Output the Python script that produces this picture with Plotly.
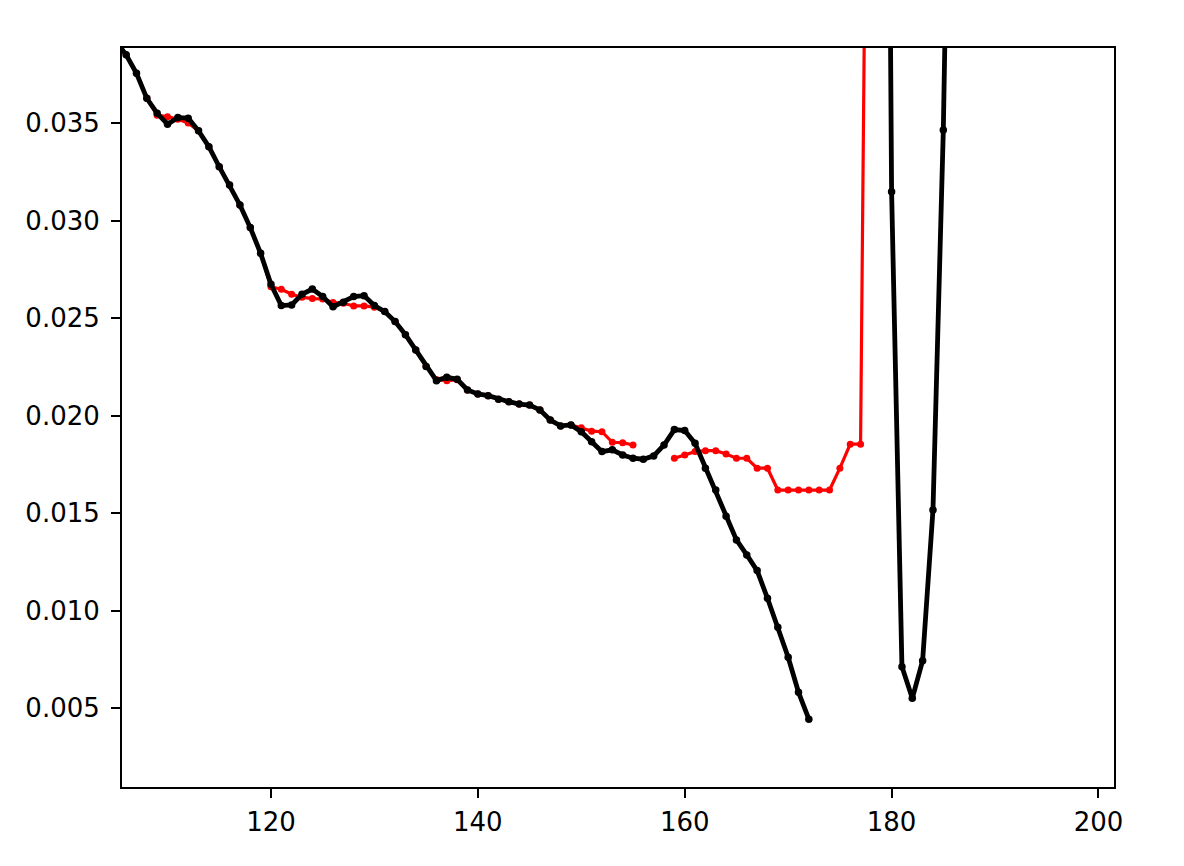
import plotly.graph_objects as go

x_vals = list(range(105, 187))

black_vals = [
    0.0392, 0.0385, 0.03755, 0.03627, 0.0355, 0.03494, 0.03528, 0.03525, 0.0346, 0.03379,
    0.03276, 0.03183, 0.0308, 0.02964, 0.02832, 0.02673, 0.02564, 0.02567, 0.02622, 0.02649,
    0.0261, 0.02558, 0.02581, 0.0261, 0.02615, 0.02564, 0.02533, 0.02482, 0.02415, 0.02336,
    0.02251, 0.02179, 0.02196, 0.02186, 0.02131, 0.02111, 0.02102, 0.02084, 0.02071, 0.02059,
    0.02054, 0.02029, 0.01977, 0.01947, 0.01952, 0.01917, 0.01866, 0.01815, 0.01824, 0.01798,
    0.01781, 0.01776, 0.01793, 0.01849, 0.01928, 0.01923, 0.01858, 0.0173, 0.01618, 0.01484,
    0.01362, 0.01285, 0.01205, 0.01063, 0.00914, 0.0076, 0.00581, 0.00443,
    None, None, None, None, None, None,
    0.105, 0.03148, 0.00712, 0.0055, 0.00743, 0.01516, 0.03465, 0.065,
]

red_vals = [
    0.0392, 0.0385, 0.03755, 0.03627, 0.0354, 0.03533, 0.0352, 0.0350, 0.0346, 0.03379,
    0.03276, 0.03183, 0.0308, 0.02964, 0.02832, 0.0266, 0.02648, 0.02622, 0.02607, 0.026,
    0.02598, 0.0258, 0.02576, 0.02562, 0.02562, 0.02556, 0.02533, 0.02482, 0.02415, 0.02336,
    0.02251, 0.02185, 0.02179, 0.02183, 0.02131, 0.02111, 0.02102, 0.02084, 0.02071, 0.02059,
    0.02054, 0.02029, 0.01977, 0.01947, 0.01952, 0.01938, 0.0192, 0.01917, 0.01863, 0.01861,
    0.01849, None, None, None, 0.01781, 0.01798, 0.01815, 0.0182, 0.0182, 0.01803,
    0.01781, 0.01781, 0.0173, 0.0173, 0.01618, 0.01618, 0.01618, 0.01618, 0.01618, 0.01618,
    0.0173, 0.01853, 0.01853, 0.077,
    None, None, None, None, None, None, None, None,
]

x_ticks = [120, 140, 160, 180, 200]
y_ticks = [0.005, 0.010, 0.015, 0.020, 0.025, 0.030, 0.035]
y_tick_text = ["0.005", "0.010", "0.015", "0.020", "0.025", "0.030", "0.035"]

fig = go.Figure()
fig.add_trace(go.Scatter(
    x=x_vals, y=red_vals, mode="lines+markers",
    line=dict(color="#ff0000", width=3.2),
    marker=dict(color="#ff0000", size=7),
    connectgaps=False, showlegend=False,
))
fig.add_trace(go.Scatter(
    x=x_vals, y=black_vals, mode="lines+markers",
    line=dict(color="#000000", width=4.8),
    marker=dict(color="#000000", size=7.5),
    connectgaps=False, showlegend=False,
))

axis_common = dict(
    showline=True, linecolor="black", linewidth=2, mirror=True,
    ticks="outside", ticklen=9, tickwidth=2, tickcolor="black",
    showgrid=False, zeroline=False,
    tickfont=dict(family="DejaVu Sans", size=26, color="black"),
)

fig.update_layout(
    width=1184, height=866,
    margin=dict(l=114, r=78, t=40, b=87),
    plot_bgcolor="white", paper_bgcolor="white",
    xaxis=dict(range=[105.6, 201.5], tickvals=x_ticks, ticklabelstandoff=2, **axis_common),
    yaxis=dict(range=[0.00095, 0.03885], tickvals=y_ticks, ticktext=y_tick_text,
               ticklabelstandoff=6, **axis_common),
)

fig.write_html("out.html")
